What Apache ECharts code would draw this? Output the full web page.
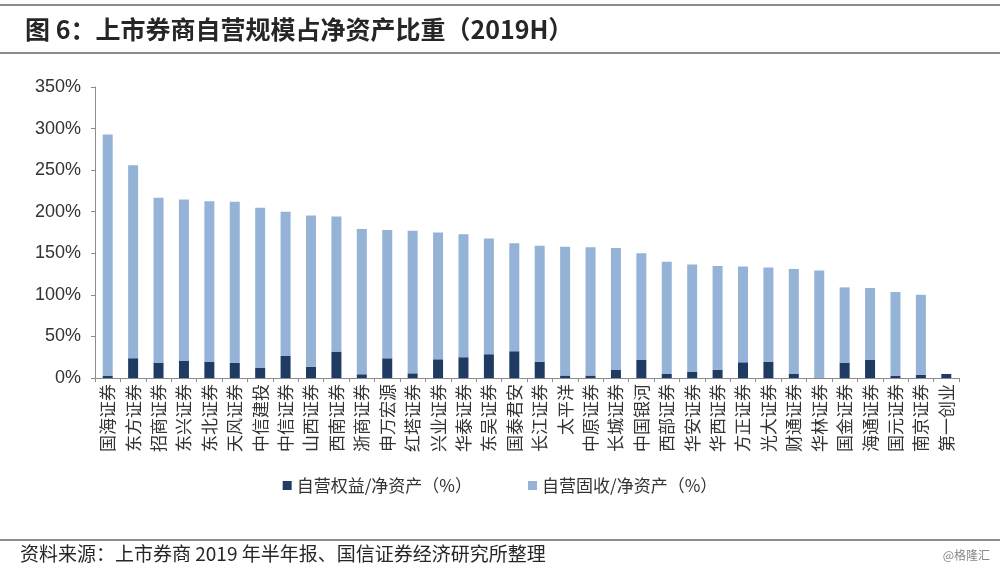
<!DOCTYPE html>
<html>
<head>
<meta charset="utf-8">
<script src="https://cdn.jsdelivr.net/npm/echarts@6/dist/echarts.min.js"></script>
<style>
	html, body { margin: 0; padding: 0; background: #fff; }
	#main_chart { width: 1000px; height: 571px; }
</style>
</head>
<body>
<div id="main_chart"></div>
<script>
var categories = ["国海证券", "东方证券", "招商证券", "东兴证券", "东北证券", "天风证券", "中信建投", "中信证券", "山西证券", "西南证券",
	"浙商证券", "申万宏源", "红塔证券", "兴业证券", "华泰证券", "东吴证券", "国泰君安", "长江证券", "太平洋", "中原证券",
	"长城证券", "中国银河", "西部证券", "华安证券", "华西证券", "方正证券", "光大证券", "财通证券", "华林证券", "国金证券",
	"海通证券", "国元证券", "南京证券", "第一创业"];

// 自营权益/净资产（%）
var equityRatio = [2.5, 23.8, 18.5, 20.5, 19.7, 18.5, 12.5, 26.5, 13.7, 31.8,
	4.5, 23.7, 5.6, 22.5, 25, 28.6, 32.2, 19.7, 3, 3,
	9.6, 21.7, 4.8, 7.2, 10, 18.9, 19.7, 4.8, 0.5, 18.5,
	21.7, 2.8, 4, 4.8];

// 自营规模合计/净资产（%），固收 = 合计 - 权益
var totalRatio = [293, 256, 216.7, 214.7, 212.7, 211.9, 204.7, 199.9, 195.4, 194.2,
	179.3, 178, 177, 174.9, 172.9, 167.7, 162, 159.2, 158, 157.2,
	156.4, 150, 139.7, 136.4, 134.8, 134, 132.8, 131.2, 129.2, 109,
	108.2, 103.4, 100.1, 4.8];

var yTicks = [0, 50, 100, 150, 200, 250, 300, 350];

var fixedRatio = [];
for (var i = 0; i < totalRatio.length; i++) {
	fixedRatio.push(Math.max(0, +(totalRatio[i] - equityRatio[i]).toFixed(1)));
}

var cnFont = '"Noto Sans CJK SC", sans-serif';
var chart = echarts.init(document.getElementById('main_chart'));

var option = {
	animation: false,
	backgroundColor: '#fff',
	title: {
		text: '图 6：上市券商自营规模占净资产比重（2019H）',
		left: 20,
		top: 12,
		textStyle: { fontFamily: cnFont, fontSize: 25, fontWeight: 'bold', color: '#262626' }
	},
	graphic: [
		{ type: 'line', shape: { x1: 0, y1: 5, x2: 1000, y2: 5 }, style: { stroke: '#8c8c8c', lineWidth: 2 } },
		{ type: 'line', shape: { x1: 0, y1: 53, x2: 1000, y2: 53 }, style: { stroke: '#8c8c8c', lineWidth: 2 } },
		{ type: 'line', shape: { x1: 0, y1: 540, x2: 1000, y2: 540 }, style: { stroke: '#8c8c8c', lineWidth: 2 } },
		{ type: 'text', left: 20, top: 544, style: { text: '资料来源：上市券商 2019 年半年报、国信证券经济研究所整理', font: '19px ' + cnFont, fill: '#262626' } },
		{ type: 'text', right: 10, top: 549, style: { text: '@格隆汇', font: '12px ' + cnFont, fill: '#888' } }
	],
	legend: {
		top: 472,
		left: 'center',
		itemGap: 56,
		itemWidth: 9,
		itemHeight: 9,
		icon: 'rect',
		textStyle: { fontFamily: cnFont, fontSize: 17, color: '#333' },
		data: ['自营权益/净资产（%）', '自营固收/净资产（%）']
	},
	grid: { left: 95, right: 41, top: 87, height: 291 },
	xAxis: {
		type: 'category',
		data: categories,
		axisLine: { lineStyle: { color: '#8c8c8c' } },
		axisTick: { show: true, alignWithLabel: false, length: 4, lineStyle: { color: '#8c8c8c' } },
		axisLabel: { rotate: 90, interval: 0, margin: 6, fontFamily: cnFont, fontSize: 17, color: '#333' }
	},
	yAxis: {
		type: 'value',
		min: 0,
		max: 350,
		interval: 50,
		splitLine: { show: false },
		axisLine: { show: true, lineStyle: { color: '#8c8c8c' } },
		axisTick: { show: true, length: 4, lineStyle: { color: '#8c8c8c' } },
		axisLabel: {
			fontFamily: 'Arial, "Liberation Sans", sans-serif',
			fontSize: 18,
			color: '#333',
			margin: 14,
			formatter: function(v) { return yTicks.indexOf(v) >= 0 ? v + '%' : ''; }
		}
	},
	series: [{
		name: '自营权益/净资产（%）',
		type: 'bar',
		stack: 'total',
		barWidth: 10,
		itemStyle: { color: '#1f3b63' },
		data: equityRatio
	}, {
		name: '自营固收/净资产（%）',
		type: 'bar',
		stack: 'total',
		barWidth: 10,
		itemStyle: { color: '#95b3d7' },
		data: fixedRatio
	}]
};

chart.setOption(option);
</script>
</body>
</html>
